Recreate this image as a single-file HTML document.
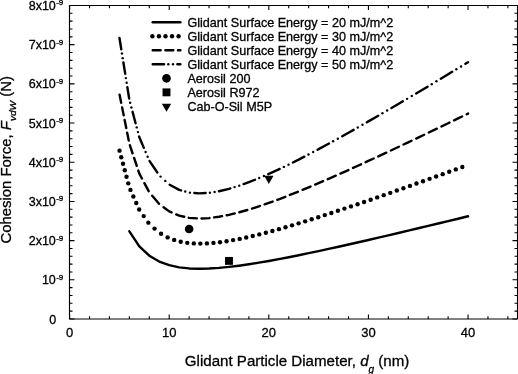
<!DOCTYPE html>
<html><head><meta charset="utf-8"><style>
html,body{margin:0;padding:0;background:#fff;}
svg{display:block;}
text{font-family:"Liberation Sans",Arial,sans-serif;fill:#000;stroke:#000;stroke-width:0.3px;}
.tl{font-size:13px;}
.tly{font-size:12.5px;}
.sup{font-size:8px;}
.lg{font-size:12.6px;}
.tt{font-size:15.1px;}
</style></head><body>
<svg width="518" height="374" viewBox="0 0 518 374">
<path d="M69.5,5.5 H517.5 V319.0" fill="none" stroke="#000" stroke-width="1.1"/>
<path d="M69.5,5.5 V319.0" fill="none" stroke="#000" stroke-width="1.15"/>
<path d="M69.0,319.0 H517.5" fill="none" stroke="#000" stroke-width="1.2"/>
<path d="M69.60,319.0 v-4.5 M69.60,5.5 v4.5 M89.52,319.0 v-2.8 M89.52,5.5 v2.8 M109.44,319.0 v-2.8 M109.44,5.5 v2.8 M129.37,319.0 v-2.8 M129.37,5.5 v2.8 M149.29,319.0 v-2.8 M149.29,5.5 v2.8 M169.21,319.0 v-4.5 M169.21,5.5 v4.5 M189.13,319.0 v-2.8 M189.13,5.5 v2.8 M209.05,319.0 v-2.8 M209.05,5.5 v2.8 M228.98,319.0 v-2.8 M228.98,5.5 v2.8 M248.90,319.0 v-2.8 M248.90,5.5 v2.8 M268.82,319.0 v-4.5 M268.82,5.5 v4.5 M288.74,319.0 v-2.8 M288.74,5.5 v2.8 M308.66,319.0 v-2.8 M308.66,5.5 v2.8 M328.59,319.0 v-2.8 M328.59,5.5 v2.8 M348.51,319.0 v-2.8 M348.51,5.5 v2.8 M368.43,319.0 v-4.5 M368.43,5.5 v4.5 M388.35,319.0 v-2.8 M388.35,5.5 v2.8 M408.27,319.0 v-2.8 M408.27,5.5 v2.8 M428.20,319.0 v-2.8 M428.20,5.5 v2.8 M448.12,319.0 v-2.8 M448.12,5.5 v2.8 M468.04,319.0 v-4.5 M468.04,5.5 v4.5 M487.96,319.0 v-2.8 M487.96,5.5 v2.8 M507.88,319.0 v-2.8 M507.88,5.5 v2.8 M69.5,319.00 h5 M517.5,319.00 h-5 M69.5,311.16 h3 M517.5,311.16 h-3 M69.5,303.32 h3 M517.5,303.32 h-3 M69.5,295.49 h3 M517.5,295.49 h-3 M69.5,287.65 h3 M517.5,287.65 h-3 M69.5,279.81 h5 M517.5,279.81 h-5 M69.5,271.97 h3 M517.5,271.97 h-3 M69.5,264.13 h3 M517.5,264.13 h-3 M69.5,256.30 h3 M517.5,256.30 h-3 M69.5,248.46 h3 M517.5,248.46 h-3 M69.5,240.62 h5 M517.5,240.62 h-5 M69.5,232.78 h3 M517.5,232.78 h-3 M69.5,224.94 h3 M517.5,224.94 h-3 M69.5,217.11 h3 M517.5,217.11 h-3 M69.5,209.27 h3 M517.5,209.27 h-3 M69.5,201.43 h5 M517.5,201.43 h-5 M69.5,193.59 h3 M517.5,193.59 h-3 M69.5,185.75 h3 M517.5,185.75 h-3 M69.5,177.92 h3 M517.5,177.92 h-3 M69.5,170.08 h3 M517.5,170.08 h-3 M69.5,162.24 h5 M517.5,162.24 h-5 M69.5,154.40 h3 M517.5,154.40 h-3 M69.5,146.56 h3 M517.5,146.56 h-3 M69.5,138.73 h3 M517.5,138.73 h-3 M69.5,130.89 h3 M517.5,130.89 h-3 M69.5,123.05 h5 M517.5,123.05 h-5 M69.5,115.21 h3 M517.5,115.21 h-3 M69.5,107.37 h3 M517.5,107.37 h-3 M69.5,99.54 h3 M517.5,99.54 h-3 M69.5,91.70 h3 M517.5,91.70 h-3 M69.5,83.86 h5 M517.5,83.86 h-5 M69.5,76.02 h3 M517.5,76.02 h-3 M69.5,68.18 h3 M517.5,68.18 h-3 M69.5,60.35 h3 M517.5,60.35 h-3 M69.5,52.51 h3 M517.5,52.51 h-3 M69.5,44.67 h5 M517.5,44.67 h-5 M69.5,36.83 h3 M517.5,36.83 h-3 M69.5,28.99 h3 M517.5,28.99 h-3 M69.5,21.16 h3 M517.5,21.16 h-3 M69.5,13.32 h3 M517.5,13.32 h-3 M69.5,5.48 h5 M517.5,5.48 h-5" stroke="#000" stroke-width="1.1" fill="none"/>
<text x="69.60" y="337" text-anchor="middle" class="tl">0</text>
<text x="169.21" y="337" text-anchor="middle" class="tl">10</text>
<text x="268.82" y="337" text-anchor="middle" class="tl">20</text>
<text x="368.43" y="337" text-anchor="middle" class="tl">30</text>
<text x="468.04" y="337" text-anchor="middle" class="tl">40</text>
<text x="56.2" y="323.60" text-anchor="end" class="tly">0</text>
<text x="55.8" y="284.41" text-anchor="end" class="tly">10</text>
<text x="56.2" y="279.71" class="sup">-9</text>
<text x="55.8" y="245.22" text-anchor="end" class="tly">2x10</text>
<text x="56.2" y="240.52" class="sup">-9</text>
<text x="55.8" y="206.03" text-anchor="end" class="tly">3x10</text>
<text x="56.2" y="201.33" class="sup">-9</text>
<text x="55.8" y="166.84" text-anchor="end" class="tly">4x10</text>
<text x="56.2" y="162.14" class="sup">-9</text>
<text x="55.8" y="127.65" text-anchor="end" class="tly">5x10</text>
<text x="56.2" y="122.95" class="sup">-9</text>
<text x="55.8" y="88.46" text-anchor="end" class="tly">6x10</text>
<text x="56.2" y="83.76" class="sup">-9</text>
<text x="55.8" y="49.27" text-anchor="end" class="tly">7x10</text>
<text x="56.2" y="44.57" class="sup">-9</text>
<text x="55.8" y="10.08" text-anchor="end" class="tly">8x10</text>
<text x="56.2" y="5.38" class="sup">-9</text>
<path d="M129.37,231.32 L139.33,246.31 L149.29,255.66 L159.25,261.54 L169.21,265.20 L179.17,267.34 L189.13,268.43 L199.09,268.77 L209.05,268.54 L219.01,267.89 L228.98,266.92 L238.94,265.69 L248.90,264.27 L258.86,262.68 L268.82,260.96 L278.78,259.13 L288.74,257.21 L298.70,255.22 L308.66,253.17 L318.62,251.06 L328.59,248.91 L338.55,246.72 L348.51,244.50 L358.47,242.24 L368.43,239.96 L378.39,237.66 L388.35,235.34 L398.31,233.01 L408.27,230.65 L418.24,228.29 L428.20,225.91 L438.16,223.52 L448.12,221.12 L458.08,218.71 L468.04,216.29" fill="none" stroke="#000" stroke-width="2.4" stroke-linejoin="round" stroke-linecap="round"/>
<circle cx="119.54" cy="150.63" r="2.2"/><circle cx="121.28" cy="157.18" r="2.2"/><circle cx="123.03" cy="163.73" r="2.2"/><circle cx="124.78" cy="170.28" r="2.2"/><circle cx="126.52" cy="176.82" r="2.2"/><circle cx="128.27" cy="183.37" r="2.2"/><circle cx="130.45" cy="189.92" r="2.2"/><circle cx="133.35" cy="196.47" r="2.2"/><circle cx="136.25" cy="203.02" r="2.2"/><circle cx="139.15" cy="209.57" r="2.2"/><circle cx="143.70" cy="216.12" r="2.2"/><circle cx="148.35" cy="222.67" r="2.2"/><circle cx="154.52" cy="228.62" r="2.2"/><circle cx="161.07" cy="233.82" r="2.2"/><circle cx="167.62" cy="237.42" r="2.2"/><circle cx="174.17" cy="239.90" r="2.2"/><circle cx="180.71" cy="241.77" r="2.2"/><circle cx="187.26" cy="242.84" r="2.2"/><circle cx="193.81" cy="243.39" r="2.2"/><circle cx="200.36" cy="243.61" r="2.2"/><circle cx="206.91" cy="243.39" r="2.2"/><circle cx="213.46" cy="242.88" r="2.2"/><circle cx="220.01" cy="242.19" r="2.2"/><circle cx="226.56" cy="241.24" r="2.2"/><circle cx="233.11" cy="240.12" r="2.2"/><circle cx="239.66" cy="238.89" r="2.2"/><circle cx="246.20" cy="237.48" r="2.2"/><circle cx="252.75" cy="235.98" r="2.2"/><circle cx="259.30" cy="234.40" r="2.2"/><circle cx="265.85" cy="232.70" r="2.2"/><circle cx="272.40" cy="230.95" r="2.2"/><circle cx="278.95" cy="229.15" r="2.2"/><circle cx="285.50" cy="227.26" r="2.2"/><circle cx="292.05" cy="225.33" r="2.2"/><circle cx="298.60" cy="223.37" r="2.2"/><circle cx="305.15" cy="221.34" r="2.2"/><circle cx="311.69" cy="219.29" r="2.2"/><circle cx="318.24" cy="217.21" r="2.2"/><circle cx="324.79" cy="215.10" r="2.2"/><circle cx="331.34" cy="212.96" r="2.2"/><circle cx="337.89" cy="210.80" r="2.2"/><circle cx="344.44" cy="208.61" r="2.2"/><circle cx="350.99" cy="206.40" r="2.2"/><circle cx="357.54" cy="204.18" r="2.2"/><circle cx="364.09" cy="201.94" r="2.2"/><circle cx="370.64" cy="199.68" r="2.2"/><circle cx="377.18" cy="197.41" r="2.2"/><circle cx="383.73" cy="195.13" r="2.2"/><circle cx="390.28" cy="192.83" r="2.2"/><circle cx="396.83" cy="190.53" r="2.2"/><circle cx="403.38" cy="188.21" r="2.2"/><circle cx="409.93" cy="185.89" r="2.2"/><circle cx="416.48" cy="183.55" r="2.2"/><circle cx="423.03" cy="181.21" r="2.2"/><circle cx="429.58" cy="178.86" r="2.2"/><circle cx="436.13" cy="176.51" r="2.2"/><circle cx="442.67" cy="174.14" r="2.2"/><circle cx="449.22" cy="171.77" r="2.2"/><circle cx="455.77" cy="169.40" r="2.2"/><circle cx="462.32" cy="167.02" r="2.2"/>
<path d="M119.59,94.74 L121.19,102.74 M122.11,107.37 L123.71,115.37 M124.64,120.00 L126.24,128.00 M127.16,132.63 L128.76,140.63 M129.90,145.26 L132.56,153.26 M134.10,157.89 L136.76,165.89 M138.29,170.52 L139.33,173.63 L141.93,178.52 M144.40,183.15 L148.67,191.15 M152.22,195.78 L158.99,203.78 M163.57,207.26 L169.21,211.39 L171.57,212.41 M176.20,214.40 L179.17,215.68 L184.20,216.79 M188.83,217.80 L189.13,217.87 L196.83,218.38 M201.46,218.43 L209.05,218.08 L209.46,218.03 M214.09,217.43 L219.01,216.79 L222.09,216.19 M226.72,215.28 L228.98,214.84 L234.72,213.43 M239.35,212.27 L247.35,209.98 M251.98,208.55 L258.86,206.35 L259.98,205.97 M264.61,204.37 L268.82,202.91 L272.61,201.52 M277.24,199.82 L278.78,199.26 L285.24,196.77 M289.87,194.98 L297.87,191.78 M302.50,189.88 L308.66,187.34 L310.50,186.56 M315.13,184.60 L318.62,183.12 L323.13,181.18 M327.76,179.18 L328.59,178.82 L335.76,175.67 M340.39,173.62 L348.39,170.04 M353.02,167.95 L358.47,165.49 L361.02,164.32 M365.65,162.20 L368.43,160.93 L373.65,158.52 M378.28,156.38 L378.39,156.33 L386.28,152.65 M390.91,150.48 L398.31,147.01 L398.91,146.73 M403.54,144.54 L408.27,142.30 L411.54,140.75 M416.17,138.55 L418.24,137.57 L424.17,134.74 M428.80,132.52 L436.80,128.68 M441.43,126.46 L448.12,123.23 L449.43,122.60 M454.06,120.36 L458.08,118.42 L462.06,116.49 M466.69,114.24 L468.04,113.58" fill="none" stroke="#000" stroke-width="2.4" stroke-linecap="round" stroke-linejoin="round"/>
<path d="M119.45,37.85 L121.28,49.25 M123.40,62.50 L125.22,73.90 M127.34,87.15 L129.17,98.55 M132.55,111.80 L135.58,123.20 M139.10,136.45 L139.33,137.28 L143.83,147.85 M149.60,161.10 L157.31,172.50 M169.64,184.72 L179.17,189.85 L181.04,190.37 M194.29,193.02 L199.09,193.42 L205.69,193.05 M218.94,191.25 L219.01,191.23 L228.98,188.80 L230.34,188.38 M243.59,184.07 L248.90,182.17 L254.99,179.74 M268.24,174.14 L268.82,173.89 L278.78,169.32 L279.64,168.91 M292.89,162.46 L298.70,159.56 L304.29,156.68 M317.54,149.73 L318.62,149.16 L328.59,143.78 L328.94,143.58 M342.19,136.27 L348.51,132.74 L353.59,129.87 M366.84,122.32 L368.43,121.41 L378.24,115.75 M391.49,108.02 L398.31,104.01 L402.89,101.31 M416.14,93.46 L418.24,92.21 L427.54,86.66 M440.79,78.71 L448.12,74.29 L452.19,71.83 M465.44,63.81 L468.04,62.23" fill="none" stroke="#000" stroke-width="2.4" stroke-linecap="round" stroke-linejoin="round"/><circle cx="121.95" cy="53.45" r="1.2"/><circle cx="122.70" cy="58.15" r="1.2"/><circle cx="125.89" cy="78.10" r="1.2"/><circle cx="126.65" cy="82.80" r="1.2"/><circle cx="130.15" cy="102.75" r="1.2"/><circle cx="131.40" cy="107.45" r="1.2"/><circle cx="136.70" cy="127.40" r="1.2"/><circle cx="137.95" cy="132.10" r="1.2"/><circle cx="145.62" cy="152.05" r="1.2"/><circle cx="147.63" cy="156.75" r="1.2"/><circle cx="160.59" cy="176.59" r="1.2"/><circle cx="165.29" cy="180.90" r="1.2"/><circle cx="185.24" cy="191.52" r="1.2"/><circle cx="189.94" cy="192.65" r="1.2"/><circle cx="209.89" cy="192.72" r="1.2"/><circle cx="214.59" cy="191.95" r="1.2"/><circle cx="234.54" cy="187.09" r="1.2"/><circle cx="239.24" cy="185.63" r="1.2"/><circle cx="259.19" cy="178.05" r="1.2"/><circle cx="263.89" cy="176.02" r="1.2"/><circle cx="283.84" cy="166.89" r="1.2"/><circle cx="288.54" cy="164.63" r="1.2"/><circle cx="308.49" cy="154.51" r="1.2"/><circle cx="313.19" cy="152.03" r="1.2"/><circle cx="333.14" cy="141.27" r="1.2"/><circle cx="337.84" cy="138.69" r="1.2"/><circle cx="357.79" cy="127.49" r="1.2"/><circle cx="362.49" cy="124.81" r="1.2"/><circle cx="382.44" cy="113.30" r="1.2"/><circle cx="387.14" cy="110.56" r="1.2"/><circle cx="407.09" cy="98.83" r="1.2"/><circle cx="411.79" cy="96.04" r="1.2"/><circle cx="431.74" cy="84.14" r="1.2"/><circle cx="436.44" cy="81.32" r="1.2"/><circle cx="456.39" cy="69.29" r="1.2"/><circle cx="461.09" cy="66.45" r="1.2"/>
<circle cx="189.13" cy="229.05" r="4.3"/>
<rect x="225.03" y="256.95" width="7.9" height="7.9"/>
<path d="M264.12,175.77 H273.52 L268.82,183.97 Z"/>
<path d="M152.7,22.25 H180.4" stroke="#000" stroke-width="2.4" stroke-linecap="round"/>
<circle cx="152.40" cy="36.27" r="2.2"/><circle cx="158.95" cy="36.27" r="2.2"/><circle cx="165.50" cy="36.27" r="2.2"/><circle cx="172.05" cy="36.27" r="2.2"/><circle cx="178.60" cy="36.27" r="2.2"/>
<path d="M152.70,50.29 L160.70,50.29 M165.33,50.29 L173.33,50.29 M177.96,50.29 L180.40,50.29" fill="none" stroke="#000" stroke-width="2.4" stroke-linecap="round" stroke-linejoin="round"/>
<path d="M152.70,64.31 L164.10,64.31 M177.35,64.31 L180.40,64.31" fill="none" stroke="#000" stroke-width="2.4" stroke-linecap="round" stroke-linejoin="round"/><circle cx="168.30" cy="64.31" r="1.2"/><circle cx="173.00" cy="64.31" r="1.2"/>
<circle cx="166.50" cy="78.33" r="4.3"/>
<rect x="162.55" y="88.40" width="7.9" height="7.9"/>
<path d="M161.80,103.64 H171.20 L166.50,111.84 Z"/>
<text x="187.4" y="27.15" class="lg">Glidant Surface Energy = 20 mJ/m^2</text>
<text x="187.4" y="41.17" class="lg">Glidant Surface Energy = 30 mJ/m^2</text>
<text x="187.4" y="55.19" class="lg">Glidant Surface Energy = 40 mJ/m^2</text>
<text x="187.4" y="69.21" class="lg">Glidant Surface Energy = 50 mJ/m^2</text>
<text x="187.4" y="83.23" class="lg">Aerosil 200</text>
<text x="187.4" y="97.25" class="lg">Aerosil R972</text>
<text x="187.4" y="111.27" class="lg">Cab-O-Sil M5P</text>
<text x="184.8" y="366.4" class="tt">Glidant Particle Diameter, <tspan font-style="italic">d</tspan><tspan font-style="italic" font-size="10" dy="6.4">g</tspan><tspan dy="-6.4"> (nm)</tspan></text>
<text transform="translate(10.6,243.6) rotate(-90)" class="tt" style="font-size:14.9px">Cohesion Force, <tspan font-style="italic">F</tspan><tspan font-style="italic" font-size="9" dy="5.5" textLength="20.3" lengthAdjust="spacingAndGlyphs">vdW</tspan><tspan dy="-5.5"> (N)</tspan></text>
</svg>
</body></html>
